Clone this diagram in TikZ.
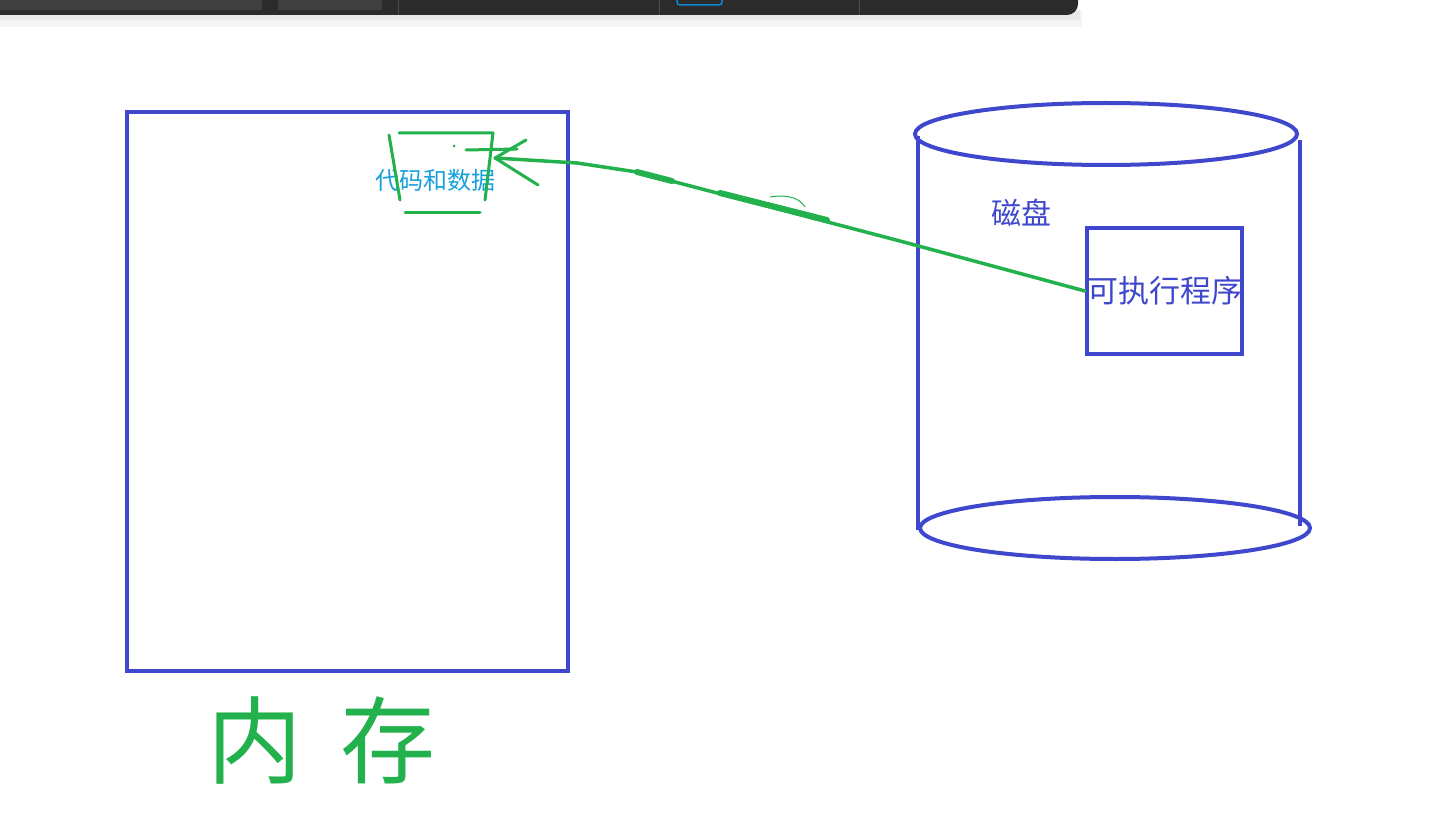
\documentclass[tikz,border=0pt]{standalone}
\usepackage{fontspec}
\newfontfamily\cjk{Noto Sans CJK SC}
\usetikzlibrary{positioning, calc}
\definecolor{paintblue}{RGB}{63,72,204}
\definecolor{paintgreen}{RGB}{34,177,76}
\definecolor{textcyan}{RGB}{22,160,220}
\definecolor{barbg}{RGB}{43,43,43}

\begin{document}
\begin{tikzpicture}[x=1pt,y=-1pt,
    box/.style={draw=paintblue,line width=4pt},
    pen/.style={draw=paintgreen,line width=3.5pt,line cap=round,line join=round}]
    \useasboundingbox[fill=white] (0,0) rectangle (1446,821);
    % window bar
    \fill[black!4] (-20,10) rectangle (1082,27);
    \fill[black!9] (-20,10) rectangle (1080,20);
    \fill[barbg,rounded corners=11pt] (-20,-30) rectangle (1078,15);
    \fill[black!75] (-5,-5) rectangle (262,10);
    \fill[black!75] (278,-5) rectangle (382,10);
    \foreach \x in {398,659,859} {
      \draw[black!70,line width=1pt] (\x,0) -- (\x,15);
    }
    \draw[cyan!70!blue,line width=1.5pt,rounded corners=3pt] (677,-8) rectangle (722,5);

    % memory
    \node[box,minimum width=441,minimum height=559] (mem) at (347.5,391.5) {};
    \node[text=textcyan,font=\cjk\fontsize{24}{24}\selectfont] (code) at (435,180) {代码和数据};
    \draw[pen,line width=3pt] (389,135) -- (400,200);
    \draw[pen,line width=3pt] (399,133) -- (493,133) -- (485,200);
    \draw[pen,line width=3pt] (405,213) -- (480,213);
    \fill[paintgreen] (454,146) circle (1.5);
    \node[text=paintgreen,font=\cjk\fontsize{95}{95}\selectfont] (memlabel) at (321,740) {内\hspace{38pt}存};

    % disk
    \draw[box] (1106,134) ellipse [x radius=191, y radius=31];
    \draw[box] (918,136) -- (918,530);
    \draw[box] (1300,140) -- (1300,526);
    \draw[box] (1115,528) ellipse [x radius=195, y radius=31];
    \node[text=paintblue,font=\cjk\fontsize{30}{30}\selectfont] (disk) at (1021,213) {磁盘};
    \node[box,minimum width=153,minimum height=126,inner sep=0pt,text=paintblue,
      font=\cjk\fontsize{31}{31}\selectfont] (exe) at (1164.5,291) {可执行程序};

    % load arrow
    \coordinate (tip) at (495,158);
    \draw[pen] (exe.west) -- (900,241) -- (637,172) -- (577,163) -- (tip);
    \draw[pen,line width=6pt] (637,172) -- (672,181);
    \draw[pen,line width=6pt] (720,193) -- (827,220);
    \draw[paintgreen,line width=1pt] (770,197) .. controls (790,194) and (800,199) .. (805,207);
    \draw[pen,line width=3pt] (526,140) -- (tip) -- (538,185);
    \draw[pen,line width=3pt] (466,150) -- (517,149);
\end{tikzpicture}
\end{document}
